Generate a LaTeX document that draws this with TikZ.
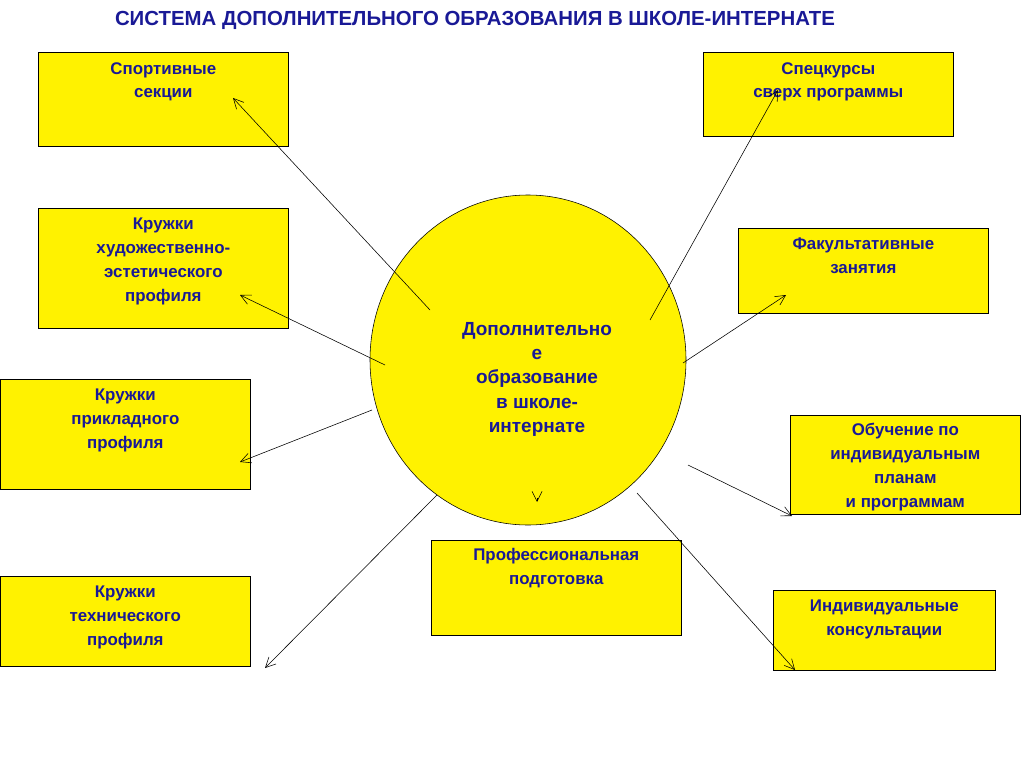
\documentclass[tikz,border=0pt]{standalone}
\usepackage{fontspec}
\setmainfont{Liberation Sans}
\usetikzlibrary{positioning,arrows.meta}
\definecolor{txtblue}{RGB}{25,25,150}
\tikzset{
  box/.style={draw, fill=yellow, anchor=north west, inner sep=0pt},
  boxtext/.style={anchor=north, align=center, text=txtblue, font=\bfseries\fontsize{12}{17}\selectfont, inner sep=0pt},
  arr/.style={-{Straight Barb[length=2.5mm,width=2.5mm]}, thin}
}
\begin{document}
\begin{tikzpicture}[x=0.025cm,y=-0.025cm]
  \useasboundingbox (0,0) rectangle (1024,768);
  \node[text=txtblue, font=\bfseries\fontsize{14.5}{17}\selectfont] (title) at (475,20) {СИСТЕМА ДОПОЛНИТЕЛЬНОГО ОБРАЗОВАНИЯ В ШКОЛЕ-ИНТЕРНАТЕ};

  % boxes
  \node[box, minimum width=6.25cm, minimum height=2.35cm] (sport) at (38,52) {};
  \node[boxtext, below=0.25cm of sport.north] {Спортивные\\секции};
  \node[box, minimum width=6.25cm, minimum height=3cm] (art) at (38,208) {};
  \node[boxtext, below=0.25cm of art.north] {Кружки\\художественно-\\эстетического\\профиля};
  \node[box, minimum width=6.25cm, minimum height=2.75cm] (appl) at (0,379) {};
  \node[boxtext, below=0.25cm of appl.north] {Кружки\\прикладного\\профиля};
  \node[box, minimum width=6.25cm, minimum height=2.25cm] (tech) at (0,576) {};
  \node[boxtext, below=0.25cm of tech.north] {Кружки\\технического\\профиля};
  \node[box, minimum width=6.25cm, minimum height=2.1cm] (spec) at (703,52) {};
  \node[boxtext, below=0.25cm of spec.north] {Спецкурсы\\сверх программы};
  \node[box, minimum width=6.25cm, minimum height=2.12cm] (fac) at (738,228) {};
  \node[boxtext, below=0.25cm of fac.north] {Факультативные\\занятия};
  \node[box, minimum width=5.75cm, minimum height=2.48cm] (indiv) at (790,415) {};
  \node[boxtext, below=0.2cm of indiv.north] {Обучение по\\индивидуальным\\планам\\и программам};
  \node[box, minimum width=5.55cm, minimum height=2cm] (cons) at (773,590) {};
  \node[boxtext, below=0.25cm of cons.north] {Индивидуальные\\консультации};
  \node[box, minimum width=6.25cm, minimum height=2.38cm] (prof) at (431,540) {};
  \node[boxtext, below=0.2cm of prof.north] {Профессиональная\\подготовка};

  % centre
  \draw[fill=yellow] (528,360) ellipse [x radius=158, y radius=165];
  \node[boxtext, font=\bfseries\fontsize{13.5}{17.3}\selectfont] (centre) at (537,322) {Дополнительно\\е\\образование\\в школе-\\интернате};

  % arrow ends
  \coordinate (s1) at (430,310);  \coordinate (e1) at (233,98);
  \coordinate (s2) at (385,365);  \coordinate (e2) at (240,295);
  \coordinate (s3) at (372,410);  \coordinate (e3) at (240,462);
  \coordinate (s4) at (437,495);  \coordinate (e4) at (265,668);
  \coordinate (s5) at (650,320);  \coordinate (e5) at (778,90);
  \coordinate (s6) at (683,363);  \coordinate (e6) at (786,295);
  \coordinate (s7) at (688,465);  \coordinate (e7) at (792,516);
  \coordinate (s8) at (637,493);  \coordinate (e8) at (795,670);
  \foreach \i in {1,...,8}
    \draw[arr] (s\i) -- (e\i);
  \coordinate (vs) at (537,498);
  \coordinate (ve) at (537,502);
  \draw[arr] (vs) -- (ve);
\end{tikzpicture}
\end{document}
